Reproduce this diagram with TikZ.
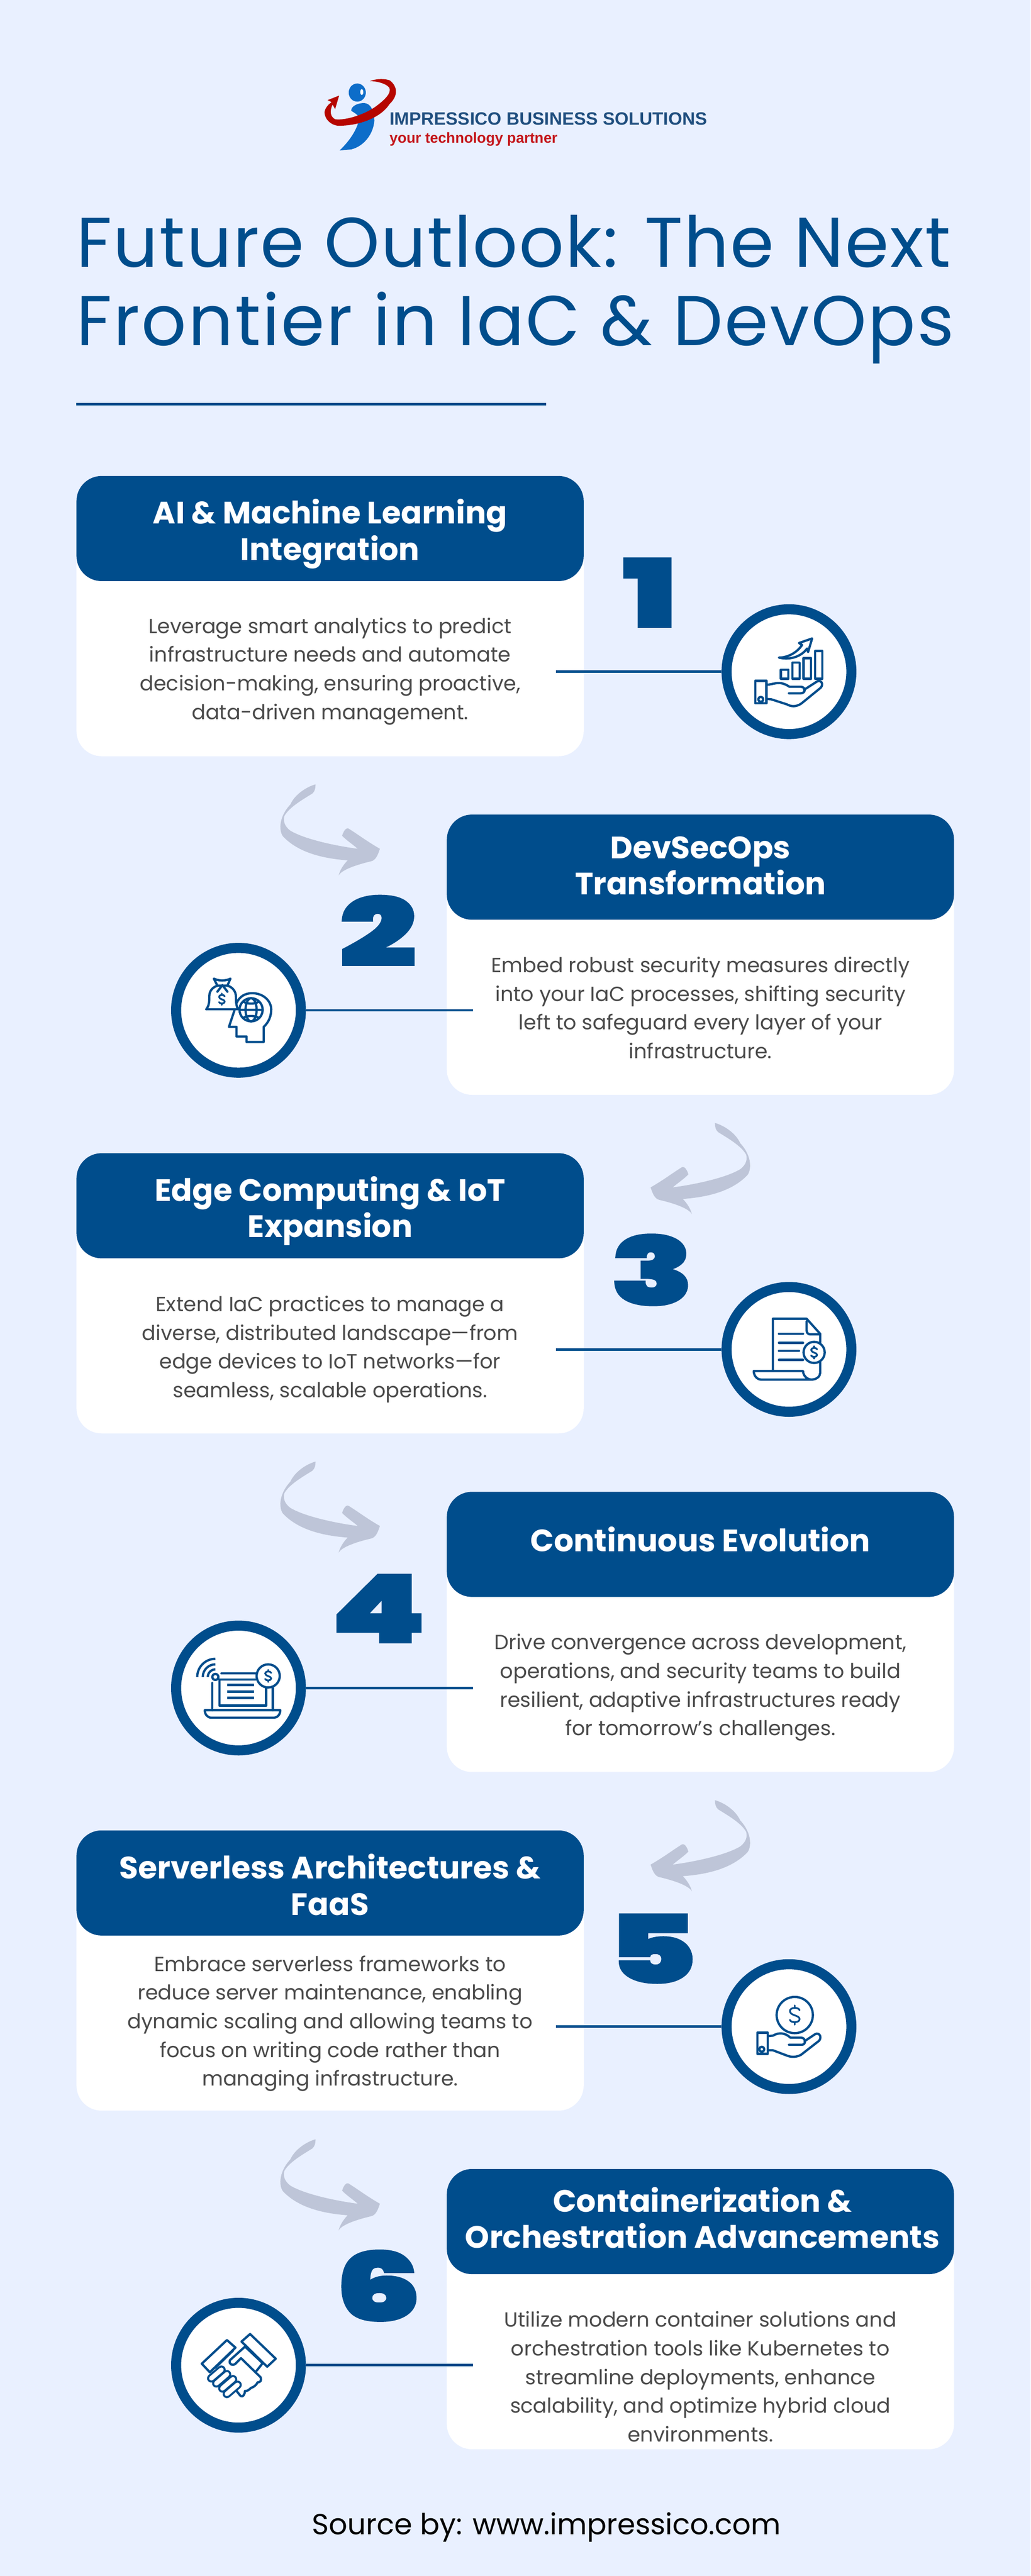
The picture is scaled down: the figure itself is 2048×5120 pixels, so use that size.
\documentclass[tikz,border=0pt]{standalone}
\usepackage{fontspec}
\setmainfont{Poppins}
\newfontfamily\titlefont[LetterSpace=1.8]{Poppins}
\newfontfamily\numfont[FakeBold=1.5]{Poppins Black}
\newfontfamily\logofont{Liberation Sans}
\definecolor{pagebg}{HTML}{E9F0FF}
\definecolor{navy}{HTML}{004D8C}
\definecolor{bodygrey}{HTML}{4A4A4A}
\definecolor{swoosh}{HTML}{BEC5D8}
\definecolor{logoblue}{HTML}{1F4E7E}
\definecolor{logored}{HTML}{C4161C}
\tikzset{
  cardbody/.style={fill=white,rounded corners=50pt},
  cardhead/.style={fill=navy,rounded corners=50pt},
  headtext/.style={text=white,align=center,font=\bfseries\fontsize{61.5}{72}\selectfont,inner sep=0pt},
  bodytext/.style={text=bodygrey,align=center,font=\fontsize{40.7}{57}\selectfont,inner sep=0pt},
  titletext/.style={text=navy,align=left,anchor=west,font=\titlefont\fontsize{140}{156}\selectfont,inner sep=0pt},
  rownumber/.style={text=navy,font=\numfont\fontsize{188}{188}\selectfont,inner sep=0pt},
  iconring/.style={circle,draw=navy,fill=white,line width=20pt,minimum size=248pt,inner sep=0pt},
  linkline/.style={draw=navy,line width=5pt},
  iconline/.style={draw=navy,line width=4.5pt,line join=round,line cap=round},
  bendarrow/.pic={
    \fill[swoosh] (0,0) .. controls (-18,5) and (-41,20) .. (-50,40)
      .. controls (-75,67) and (-72,95) .. (-64,104)
      .. controls (-35,134) and (10,147) .. (64,151)
      .. controls (55,160) and (48,172) .. (46,181)
      .. controls (52,170) and (80,160) .. (110,153)
      .. controls (120,151) and (124,140) .. (128,128)
      .. controls (105,115) and (85,100) .. (66,88)
      .. controls (60,85) and (55,95) .. (53,102)
      .. controls (60,110) and (75,120) .. (84,128)
      .. controls (45,123) and (-20,110) .. (-50,92)
      .. controls (-63,82) and (-64,72) .. (-62,63)
      .. controls (-52,45) and (-25,30) .. (-6,18)
      .. controls (-1,13) and (0,8) .. (0,0) -- cycle;
  },
  moneymark/.pic={
    \draw[iconline,line width=3.5pt] (6,-6) .. controls (5,-10) and (-6,-10) .. (-6,-5)
      .. controls (-6,1) and (6,0) .. (6,5) .. controls (6,10) and (-5,10) .. (-6,6);
    \draw[iconline,line width=3.5pt] (0,-12) -- (0,-9) (0,9) -- (0,12);
  },
  charthand/.pic={
    \draw[iconline] (-16,-4) rectangle (-1,14) (7,-18) rectangle (21,14)
      (29,-27) rectangle (44,14) (52,-41) rectangle (66,14);
    \draw[iconline] (-20,-28) .. controls (-2,-28) and (16,-38) .. (26,-53) -- (20,-57) -- (46,-66)
      -- (38,-39) -- (36,-46) .. controls (26,-32) and (5,-22) .. (-20,-28) -- cycle;
    \draw[iconline] (-67,18) rectangle (-45,63);
    \draw[iconline] (-56,55) circle (5pt);
    \draw[iconline] (-45,26) .. controls (-30,26) and (-20,16) .. (1,30) -- (23,30)
      .. controls (34,30) and (34,43) .. (23,43) -- (0,43);
    \draw[iconline] (30,36) -- (55,20) .. controls (63,15) and (70,24) .. (63,32)
      -- (25,63) .. controls (15,70) and (5,70) .. (-4,65) -- (-35,55) -- (-45,54);
  },
  brainbag/.pic={
    \draw[iconline] (-64,-2) -- (-1,-2);
    \draw[iconline] (-64,-2) .. controls (-58,-10) and (-58,-18) .. (-58,-28)
      .. controls (-58,-40) and (-50,-46) .. (-42,-49) -- (-22,-49)
      .. controls (-12,-46) and (-5,-38) .. (-5,-26) .. controls (-5,-14) and (-4,-8) .. (-1,-2);
    \draw[iconline] (-42,-49) -- (-49,-63) .. controls (-40,-58) and (-25,-58) .. (-16,-63) -- (-22,-49);
    \draw[iconline] (-42,-37) -- (-32,-50) -- (-22,-37);
    \pic[scale=.95] at (-33,-22) {moneymark};
    \draw[iconline] (-4,-14) .. controls (2,-28) and (14,-34) .. (27,-34)
      .. controls (50,-34) and (65,-18) .. (65,-2) .. controls (65,12) and (60,24) .. (50,33)
      -- (50,63) -- (16,63) -- (16,52) -- (-4,52) -- (-4,33) -- (-19,33) -- (-8,0);
    \draw[iconline] (25,-1) circle (23pt);
    \draw[iconline] (25,-1) ellipse (11pt and 23pt) (2,-1) -- (48,-1);
    \draw[iconline] (10,-17) .. controls (18,-12) and (32,-12) .. (40,-17)
      (10,15) .. controls (18,10) and (32,10) .. (40,15);
  },
  billdoc/.pic={
    \draw[iconline] (-32,42) -- (-32,-61) -- (35,-61) -- (62,-31) -- (62,-14) (62,26) -- (62,47)
      .. controls (62,54) and (54,60) .. (45,60) -- (-55,60)
      .. controls (-64,60) and (-70,52) .. (-70,43) -- (28,43)
      .. controls (28,52) and (36,60) .. (45,60);
    \draw[iconline] (35,-56) -- (35,-38) .. controls (35,-33) and (38,-30) .. (42,-30) -- (62,-30);
    \draw[iconline] (-20,-31) -- (28,-31) (-20,-13) -- (28,-13) (-20,3) -- (20,3) (-20,21) -- (28,21);
    \draw[iconline] (50,6) circle (21pt);
    \pic at (50,6) {moneymark};
  },
  wifilaptop/.pic={
    \draw[iconline,line cap=butt] (-46,-22) ++(-15,0) arc (180:90:15pt);
    \draw[iconline,line cap=butt] (-46,-22) ++(-25,0) arc (180:90:25pt);
    \draw[iconline,line cap=butt] (-46,-22) ++(-36,0) arc (180:90:36pt);
    \draw[iconline] (-46,-22) circle (6pt);
    \draw[iconline] (-34,-29) -- (36,-29) (-38,-17) -- (34,-17);
    \draw[iconline] (-38,-17) -- (-38,35) -- (55,35) -- (55,0);
    \draw[iconline] (-52,-10) -- (-52,44) (68,0) -- (68,44);
    \draw[iconline] (-67,44) -- (83,44) .. controls (83,52) and (78,59) .. (71,59) -- (-54,59)
      .. controls (-62,59) and (-67,52) .. (-67,44) -- cycle;
    \draw[iconline,line width=5pt,line cap=butt] (-22,-6) -- (31,-6) (-22,7) -- (31,7) (-22,20) -- (31,20);
    \draw[iconline] (59,-24) circle (23pt);
    \pic at (59,-24) {moneymark};
  },
  coinhand/.pic={
    \draw[iconline] (11.5,-23) circle (36pt);
    \pic[scale=1.6] at (11.5,-23) {moneymark};
    \draw[iconline] (-63,12) rectangle (-42,54);
    \draw[iconline] (-54,45) circle (5pt);
    \draw[iconline] (-42,19) -- (-32,18) .. controls (-20,11) and (-8,12) .. (3,22) -- (24,22)
      .. controls (34,22) and (34,36) .. (26,36) -- (0,36);
    \draw[iconline] (31,29) -- (52,15) .. controls (60,11) and (66,20) .. (60,28)
      -- (24,56) .. controls (15,61) and (5,61) .. (-3,58) -- (-32,47) -- (-42,47);
  },
  shakehands/.pic={
    \draw[iconline] (-23,-50) -- (-6,-35) -- (-57,14) -- (-73,-3) -- cycle;
    \draw[iconline] (23,-62) -- (74,-13) -- (57,3) -- (6,-47) -- cycle;
    \draw[iconline] (-11,-29) -- (-46,5) (13,-37) -- (48,-4) -- (36,11);
    \draw[iconline] (13,-37) -- (-17,-10) .. controls (-20,-2) and (-12,2) .. (-6,-3)
      -- (5,-14) -- (44,24) .. controls (46,30) and (44,34) .. (38,34)
      .. controls (34,42) and (28,44) .. (25,45) .. controls (20,50) and (16,52) .. (13,51)
      .. controls (12,60) and (8,64) .. (4,61) -- (-4,51);
    \draw[iconline,line width=4pt,double=white,double distance=9pt]
      (-54,26) -- (-34,9) (-44,36) -- (-23,18) (-32,46) -- (-11,28) (-23,57) -- (-2,39);
  },
}
\begin{document}
\begin{tikzpicture}[x=1pt,y=-1pt]
  \useasboundingbox (0,0) rectangle (2048,5120);
  \fill[pagebg] (0,0) rectangle (2048,5120);

  % logo
  \fill[logoblue!60!blue!70!cyan] (710,184) ellipse (17pt and 18pt);
  \fill[white] (719,183) ellipse (3pt and 6pt);
  \fill[logoblue!60!blue!70!cyan] (720,205) .. controls (730,204) and (742,208) .. (744,240)
    .. controls (742,265) and (725,290) .. (698,297) -- (675,299)
    .. controls (695,280) and (712,255) .. (714,233) .. controls (708,225) and (700,222) .. (698,220)
    .. controls (698,212) and (708,206) .. (720,205) -- cycle;
  \fill[red!70!black!95!orange] (735,161) .. controls (750,156) and (765,156) .. (775,160)
    .. controls (790,172) and (792,190) .. (774,207) .. controls (760,230) and (720,250) .. (672,250)
    .. controls (655,248) and (645,235) .. (645,223) .. controls (646,215) and (652,208) .. (659,203)
    -- (651,199) -- (674,190) -- (666,217) -- (661,208)
    .. controls (655,220) and (656,232) .. (666,237) .. controls (690,240) and (730,225) .. (749,210)
    .. controls (765,198) and (778,185) .. (774,175) .. controls (770,168) and (755,162) .. (735,161) -- cycle;
  \node[anchor=west,inner sep=0pt,text=logoblue,font=\logofont\bfseries\fontsize{35.5}{36}\selectfont] (logoname) at (774,236) {IMPRESSICO BUSINESS SOLUTIONS};
  \node[anchor=west,inner sep=0pt,text=logored,font=\logofont\bfseries\fontsize{29}{29}\selectfont] (logotag) at (774,277) {your technology partner};

  % title
  \node[titletext] (title) at (152,575) {Future Outlook: The Next\\\addfontfeature{LetterSpace=2.3}Frontier in IaC \& DevOps};
  \draw[linkline] (152,803) -- (1085,803);

  % card one
  \fill[cardbody] (152,946) rectangle (1160,1503);
  \fill[cardhead] (152,946) rectangle (1160,1155);
  \node[headtext] (head1) at (656,1061) {AI \& Machine Learning\\Integration};
  \node[bodytext] (text1) at (656,1334) {Leverage smart analytics to predict\\infrastructure needs and automate\\decision-making, ensuring proactive,\\data-driven management.};
  \node[rownumber] (num1) at (1292,1178) {\scalebox{1.44}[1]{1}};
  \node[iconring] (icon1) at (1568,1335) {};
  \coordinate (end1) at (1105,1335);
  \draw[linkline] (end1) -- (icon1);
  \pic at (icon1) {charthand};
  \pic at (627,1559) {bendarrow};

  % card two
  \fill[cardbody] (888,1619) rectangle (1896,2176);
  \fill[cardhead] (888,1619) rectangle (1896,1828);
  \node[headtext] (head2) at (1392,1721) {DevSecOps\\Transformation};
  \node[bodytext] (text2) at (1392,2003) {Embed robust security measures directly\\into your IaC processes, shifting security\\left to safeguard every layer of your\\infrastructure.};
  \node[rownumber] (num2) at (751,1850) {\scalebox{1.44}[1]{2}};
  \node[iconring] (icon2) at (474,2008) {};
  \coordinate (end2) at (940,2008);
  \draw[linkline] (end2) -- (icon2);
  \pic at (icon2) {brainbag};
  \pic[xscale=-1] at (1421,2232) {bendarrow};

  % card three
  \fill[cardbody] (152,2292) rectangle (1160,2849);
  \fill[cardhead] (152,2292) rectangle (1160,2501);
  \node[headtext] (head3) at (656,2407) {Edge Computing \& IoT\\Expansion};
  \node[bodytext] (text3) at (656,2682) {Extend IaC practices to manage a\\diverse, distributed landscape---from\\edge devices to IoT networks---for\\seamless, scalable operations.};
  \node[rownumber] (num3) at (1296,2524) {\scalebox{1.44}[1]{3}};
  \node[iconring] (icon3) at (1568,2682) {};
  \coordinate (end3) at (1105,2682);
  \draw[linkline] (end3) -- (icon3);
  \pic at (icon3) {billdoc};
  \pic at (627,2905) {bendarrow};

  % card four
  \fill[cardbody] (888,2965) rectangle (1896,3522);
  \fill[cardhead] (888,2965) rectangle (1896,3174);
  \node[headtext] (head4) at (1392,3059) {Continuous Evolution};
  \node[bodytext] (text4) at (1392,3354) {Drive convergence across development,\\operations, and security teams to build\\resilient, adaptive infrastructures ready\\for tomorrow's challenges.};
  \node[rownumber] (num4) at (752,3197) {\scalebox{1.44}[1]{4}};
  \node[iconring] (icon4) at (474,3355) {};
  \coordinate (end4) at (940,3355);
  \draw[linkline] (end4) -- (icon4);
  \pic at (icon4) {wifilaptop};
  \pic[xscale=-1] at (1421,3578) {bendarrow};

  % card five
  \fill[cardbody] (152,3638) rectangle (1160,4195);
  \fill[cardhead] (152,3638) rectangle (1160,3847);
  \node[headtext] (head5) at (656,3746) {Serverless Architectures \&\\FaaS};
  \node[bodytext] (text5) at (656,4022) {Embrace serverless frameworks to\\reduce server maintenance, enabling\\dynamic scaling and allowing teams to\\focus on writing code rather than\\managing infrastructure.};
  \node[rownumber] (num5) at (1296,3873) {\scalebox{1.44}[1]{5}};
  \node[iconring] (icon5) at (1568,4028) {};
  \coordinate (end5) at (1105,4028);
  \draw[linkline] (end5) -- (icon5);
  \pic at (icon5) {coinhand};
  \pic at (627,4252) {bendarrow};

  % card six
  \fill[cardbody] (888,4311) rectangle (1896,4868);
  \fill[cardhead] (888,4311) rectangle (1896,4520);
  \node[headtext] (head6) at (1396,4408) {Containerization \&\\Orchestration Advancements};
  \node[bodytext] (text6) at (1392,4724) {Utilize modern container solutions and\\orchestration tools like Kubernetes to\\streamline deployments, enhance\\scalability, and optimize hybrid cloud\\environments.};
  \node[rownumber] (num6) at (752,4543) {\scalebox{1.44}[1]{6}};
  \node[iconring] (icon6) at (474,4701) {};
  \coordinate (end6) at (940,4701);
  \draw[linkline] (end6) -- (icon6);
  \pic at (icon6) {shakehands};

  \node[inner sep=0pt,text=black,font=\fontsize{57.6}{60}\selectfont] (source) at (1086,5023) {Source by: www.impressico.com};
\end{tikzpicture}
\end{document}
